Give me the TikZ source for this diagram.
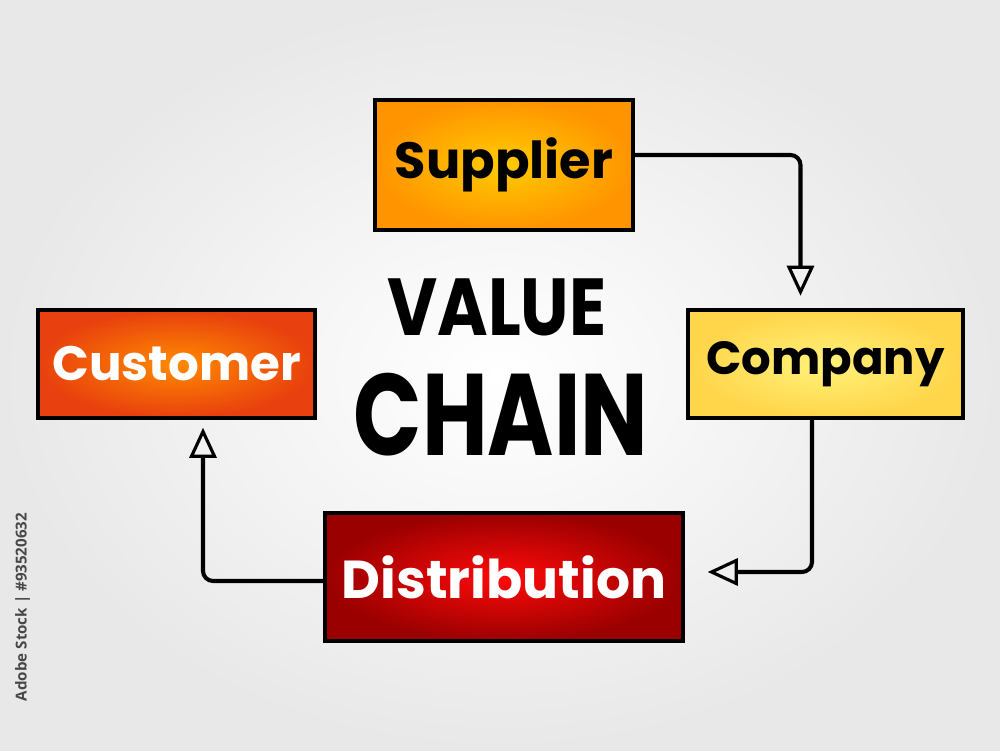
\documentclass[tikz,border=0pt]{standalone}
\usepackage{fontspec}
\usepackage{graphicx}
\setmainfont{Poppins}
\setsansfont{Open Sans}
\usetikzlibrary{arrows.meta}
\definecolor{supA}{HTML}{FFCC00}
\definecolor{supB}{HTML}{FF9400}
\definecolor{comA}{HTML}{FFF27A}
\definecolor{comB}{HTML}{FFD54A}
\definecolor{cusA}{HTML}{FF8A00}
\definecolor{cusB}{HTML}{E8400E}
\definecolor{disA}{HTML}{FF0A0A}
\definecolor{disB}{HTML}{9A0000}
\newcommand{\boxfont}[1]{\fontsize{#1}{#1}\selectfont\bfseries}
\tikzset{
	box/.style={draw=black, line width=2pt, shade, shading=radial, minimum height=2.16cm},
	flow/.style={line width=2.3pt, rounded corners=2mm, -{Triangle[open, length=6mm, width=5.4mm, line width=1.8pt]}}
}
\begin{document}
\begin{tikzpicture}
			\shade[inner color=white, outer color=black!9] (0,0) rectangle (20,15);
			\useasboundingbox (0,0) rectangle (20,15);
			\node[box, inner color=supA, outer color=supB, minimum width=5.16cm, minimum height=2.6cm, font=\boxfont{29}] (supplier) at (10.08,11.7) {Supplier};
			\node[box, inner color=comA, outer color=comB, minimum width=5.5cm, font=\boxfont{26.5}] (company) at (16.51,7.72) {Company};
			\node[box, inner color=cusA, outer color=cusB, minimum width=5.54cm, text=white, font=\boxfont{27.5}] (customer) at (3.53,7.72) {Customer};
			\node[box, inner color=disA, outer color=disB, minimum width=7.16cm, minimum height=2.56cm, text=white, font=\boxfont{30.4}] (distribution) at (10.08,3.46) {Distribution};
			\node[font=\fontsize{46}{50}\selectfont\bfseries] (value) at (9.94,8.86) {\scalebox{0.85}[1]{VALUE}};
			\node[font=\fontsize{66}{70}\selectfont\bfseries] (chain) at (10.02,6.7) {\scalebox{0.775}[1]{CHAIN}};
			\draw[flow] ([yshift=2mm]supplier.east) -| ([xshift=-5mm,yshift=2.5mm]company.north);
			\draw[flow] ([xshift=-2.7mm]company.south) |- ([xshift=4.6mm,yshift=1mm]distribution.east);
			\draw[flow] ([yshift=-0.8mm]distribution.west) -| ([xshift=5.3mm,yshift=-1.6mm]customer.south);
			\node[font=\sffamily\fontsize{8.6}{10}\selectfont\bfseries, text=black!72, rotate=90] (stock) at (0.45,2.86) {Adobe Stock | \#93520632};
		\end{tikzpicture}
\end{document}
